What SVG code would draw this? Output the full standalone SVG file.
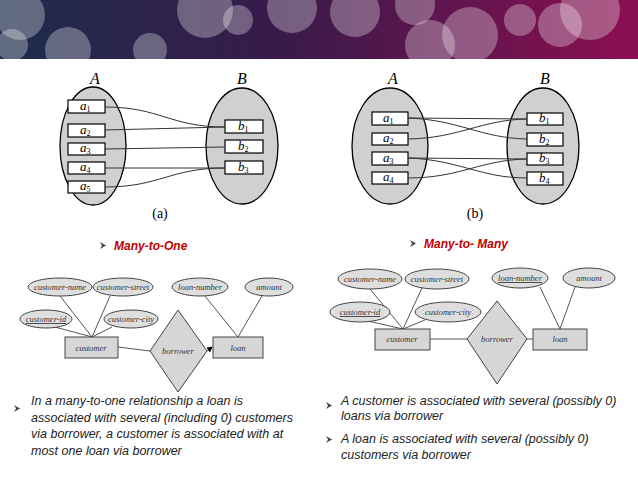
<svg xmlns="http://www.w3.org/2000/svg" width="638" height="478" viewBox="0 0 638 478">
<defs>
<linearGradient id="bg" x1="0" x2="1" y1="0" y2="0">
<stop offset="0" stop-color="#1d2c4c"/><stop offset="0.45" stop-color="#3a1a4a"/><stop offset="1" stop-color="#8c0f52"/>
</linearGradient>
<marker id="arr" markerWidth="6" markerHeight="6" refX="5" refY="3" orient="auto"><path d="M0,0 L6,3 L0,6 z" fill="#000"/></marker>
</defs>
<style>
.set{fill:#d0d0d0;stroke:#000;stroke-width:1.3}
.box{fill:#fff;stroke:#000;stroke-width:1.2}
.m{font-family:"Liberation Serif",serif;font-style:italic;font-size:13px}
.sub{font-size:8px;font-style:normal}
.hdr{font-family:"Liberation Serif",serif;font-style:italic;font-size:16px}
.cap{font-family:"Liberation Serif",serif;font-size:14px}
.ln{fill:none;stroke:#333;stroke-width:1}
.att{fill:#dedede;stroke:#444;stroke-width:1}
.ent{fill:#d6d6d6;stroke:#444;stroke-width:1}
.at{font-family:"Liberation Serif",serif;font-style:italic;font-size:8.5px;fill:#333}
.red{font-family:"Liberation Sans",sans-serif;font-style:italic;font-weight:bold;font-size:12px;fill:#c00000}
.body{font-family:"Liberation Sans",sans-serif;font-style:italic;font-size:12.5px;fill:#222}
.bul{fill:#444}
</style>
<g id="banner">
<rect x="0" y="0" width="638" height="59" fill="url(#bg)"/>
<g fill="#fff" fill-opacity="0.3">
<circle cx="20" cy="15" r="25"/><circle cx="12" cy="45" r="16"/><circle cx="68" cy="50" r="23"/>
<circle cx="150" cy="50" r="17"/><circle cx="205" cy="10" r="28"/><circle cx="238" cy="20" r="15"/>
<circle cx="292" cy="8" r="25"/><circle cx="355" cy="12" r="25"/><circle cx="415" cy="5" r="20"/>
<circle cx="430" cy="45" r="25"/><circle cx="470" cy="35" r="28"/><circle cx="520" cy="20" r="16"/>
<circle cx="560" cy="25" r="22"/><circle cx="590" cy="10" r="30"/>
</g>
</g>
<g id="diagram-a">
<text class="hdr" x="95" y="84" text-anchor="middle">A</text>
<text class="hdr" x="242" y="84" text-anchor="middle">B</text>
<ellipse class="set" cx="93" cy="146" rx="33" ry="59"/>
<ellipse class="set" cx="242" cy="146" rx="36" ry="58"/>
<g class="box"><rect x="68" y="100" width="37" height="13"/><rect x="68" y="124" width="37" height="13"/><rect x="68" y="143" width="37" height="12"/><rect x="68" y="162" width="37" height="12"/><rect x="68" y="181" width="37" height="12"/>
<rect x="225" y="120" width="38" height="13"/><rect x="225" y="140" width="38" height="13"/><rect x="225" y="161" width="38" height="13"/></g>
<g class="m">
<text x="80" y="110">a<tspan class="sub" dy="2">1</tspan></text>
<text x="80" y="134">a<tspan class="sub" dy="2">2</tspan></text>
<text x="80" y="152">a<tspan class="sub" dy="2">3</tspan></text>
<text x="80" y="171">a<tspan class="sub" dy="2">4</tspan></text>
<text x="80" y="190">a<tspan class="sub" dy="2">5</tspan></text>
<text x="238" y="130">b<tspan class="sub" dy="2">1</tspan></text>
<text x="238" y="150">b<tspan class="sub" dy="2">2</tspan></text>
<text x="238" y="171">b<tspan class="sub" dy="2">3</tspan></text>
</g>
<text class="cap" x="160" y="218" text-anchor="middle">(a)</text>
</g>
<g id="diagram-b">
<text class="hdr" x="393" y="84" text-anchor="middle">A</text>
<text class="hdr" x="545" y="84" text-anchor="middle">B</text>
<ellipse class="set" cx="390" cy="146" rx="38" ry="58"/>
<ellipse class="set" cx="543" cy="146" rx="36" ry="58"/>
<g class="box"><rect x="372" y="112" width="36" height="13"/><rect x="372" y="133" width="36" height="12"/><rect x="372" y="152" width="36" height="13"/><rect x="372" y="172" width="36" height="12"/>
<rect x="527" y="113" width="36" height="12"/><rect x="527" y="133" width="36" height="13"/><rect x="527" y="153" width="36" height="12"/><rect x="527" y="172" width="36" height="13"/></g>
<g class="m">
<text x="383" y="122">a<tspan class="sub" dy="2">1</tspan></text>
<text x="383" y="142">a<tspan class="sub" dy="2">2</tspan></text>
<text x="383" y="162">a<tspan class="sub" dy="2">3</tspan></text>
<text x="383" y="181">a<tspan class="sub" dy="2">4</tspan></text>
<text x="539" y="122">b<tspan class="sub" dy="2">1</tspan></text>
<text x="539" y="143">b<tspan class="sub" dy="2">2</tspan></text>
<text x="539" y="162">b<tspan class="sub" dy="2">3</tspan></text>
<text x="539" y="182">b<tspan class="sub" dy="2">4</tspan></text>
</g>
<text class="cap" x="475" y="218" text-anchor="middle">(b)</text>
</g>
<g id="connectors">
<path class="ln" d="M105,107 C160,107 170,127 225,127"/>
<path class="ln" d="M105,130 L225,127"/>
<path class="ln" d="M105,149 L225,147"/>
<path class="ln" d="M105,168 L225,168"/>
<path class="ln" d="M105,187 C160,187 170,168 225,168"/>
<path class="ln" d="M408,118 L527,119"/>
<path class="ln" d="M408,118 C460,120 480,138 527,139"/>
<path class="ln" d="M408,139 C460,138 480,120 527,119"/>
<path class="ln" d="M408,158 L527,159"/>
<path class="ln" d="M408,158 C460,160 480,178 527,178"/>
<path class="ln" d="M408,178 C460,178 480,160 527,159"/>
<g stroke="#555" stroke-width="1">
<line x1="60" y1="296" x2="92" y2="337"/><line x1="110" y1="296" x2="92" y2="337"/><line x1="55" y1="327" x2="92" y2="337"/><line x1="112" y1="327" x2="92" y2="337"/>
<line x1="118" y1="347" x2="150" y2="351"/><line x1="207" y1="351" x2="212" y2="347" marker-end="url(#arr)"/>
<line x1="205" y1="296" x2="238" y2="337"/><line x1="262" y1="296" x2="238" y2="337"/>
<line x1="370" y1="289" x2="403" y2="329"/><line x1="422" y1="288" x2="403" y2="329"/><line x1="368" y1="321" x2="403" y2="329"/><line x1="425" y1="320" x2="403" y2="329"/>
<line x1="430" y1="339" x2="467" y2="339"/><line x1="527" y1="339" x2="533" y2="339"/>
<line x1="540" y1="287" x2="560" y2="329"/><line x1="575" y1="287" x2="560" y2="329"/>
</g>
</g>
<g id="er-left">
<ellipse class="att" cx="60" cy="287" rx="32" ry="9"/><text class="at" x="60" y="290" text-anchor="middle">customer-name</text>
<ellipse class="att" cx="123" cy="287" rx="30" ry="9"/><text class="at" x="123" y="290" text-anchor="middle">customer-street</text>
<ellipse class="att" cx="46" cy="319" rx="26" ry="9"/><text class="at" x="46" y="322" text-anchor="middle" text-decoration="underline">customer-id</text>
<ellipse class="att" cx="131" cy="319" rx="27" ry="9"/><text class="at" x="131" y="322" text-anchor="middle">customer-city</text>
<rect class="ent" x="65" y="337" width="53" height="21"/><text class="at" x="91" y="351" text-anchor="middle">customer</text>
<polygon class="ent" points="178,310 207,351 178,392 150,351"/><text class="at" x="178" y="354" text-anchor="middle">borrower</text>
<rect class="ent" x="213" y="337" width="50" height="21"/><text class="at" x="238" y="351" text-anchor="middle">loan</text>
<ellipse class="att" cx="200" cy="287" rx="28" ry="9"/><text class="at" x="200" y="290" text-anchor="middle">loan-number</text>
<ellipse class="att" cx="269" cy="287" rx="24" ry="9"/><text class="at" x="269" y="290" text-anchor="middle">amount</text>
</g>
<g id="er-right">
<ellipse class="att" cx="370" cy="279" rx="32" ry="10"/><text class="at" x="370" y="282" text-anchor="middle">customer-name</text>
<ellipse class="att" cx="437" cy="279" rx="32" ry="10"/><text class="at" x="437" y="282" text-anchor="middle">customer-street</text>
<ellipse class="att" cx="360" cy="312" rx="30" ry="10"/><text class="at" x="360" y="315" text-anchor="middle" text-decoration="underline">customer-id</text>
<ellipse class="att" cx="448" cy="312" rx="33" ry="10"/><text class="at" x="448" y="315" text-anchor="middle">customer-city</text>
<rect class="ent" x="375" y="329" width="55" height="21"/><text class="at" x="402" y="342" text-anchor="middle">customer</text>
<polygon class="ent" points="497,301 527,339 497,384 467,339"/><text class="at" x="497" y="342" text-anchor="middle">borrower</text>
<rect class="ent" x="533" y="329" width="54" height="21"/><text class="at" x="560" y="342" text-anchor="middle">loan</text>
<ellipse class="att" cx="520" cy="278" rx="28" ry="10"/><text class="at" x="520" y="281" text-anchor="middle" text-decoration="underline">loan-number</text>
<ellipse class="att" cx="589" cy="278" rx="26" ry="10"/><text class="at" x="589" y="281" text-anchor="middle">amount</text>
</g>
<g id="labels">
<path class="bul" d="M100,242 L106,245.5 L100,249 L102,245.5 z"/>
<text class="red" x="114" y="250">Many-to-One</text>
<path class="bul" d="M410,240 L416,243.5 L410,247 L412,243.5 z"/>
<text class="red" x="424" y="248">Many-to- Many</text>
<path class="bul" d="M14,405 L20,408.5 L14,412 L16,408.5 z"/>
<text class="body" x="31" y="405">In a many-to-one relationship a loan is</text>
<text class="body" x="31" y="422">associated with several (including 0) customers</text>
<text class="body" x="31" y="438">via borrower, a customer is associated with at</text>
<text class="body" x="31" y="455">most one loan via borrower</text>
<path class="bul" d="M326,402 L332,405.5 L326,409 L328,405.5 z"/>
<text class="body" x="341" y="405">A customer is associated with several (possibly 0)</text>
<text class="body" x="341" y="420">loans via borrower</text>
<path class="bul" d="M326,436 L332,439.5 L326,443 L328,439.5 z"/>
<text class="body" x="341" y="443">A loan is associated with several (possibly 0)</text>
<text class="body" x="341" y="459">customers via borrower</text>
</g>
</svg>
